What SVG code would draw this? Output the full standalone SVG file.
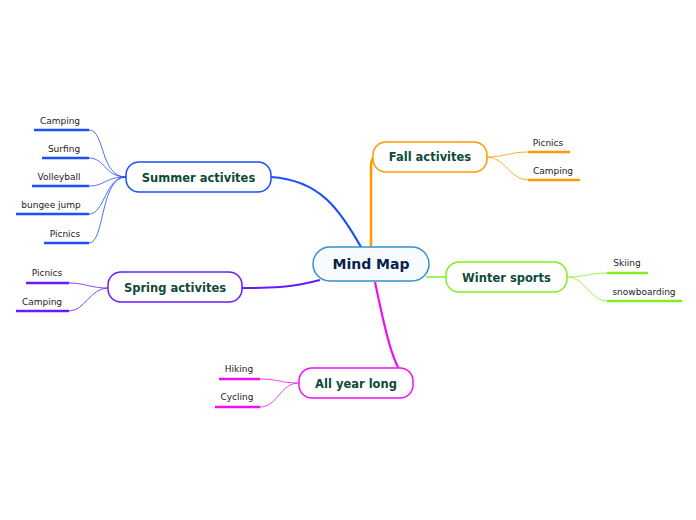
<svg xmlns="http://www.w3.org/2000/svg" width="696" height="520" viewBox="0 0 696 520">
<style>
text{font-family:"DejaVu Sans",Verdana,sans-serif}
.t{font-size:11.5px;font-weight:bold;fill:#0d4a3a;text-anchor:middle}
.l{font-size:9px;fill:#222;text-anchor:middle}
.n{fill:#fff;stroke-width:1.5}
.c{fill:none}
</style>
<rect width="696" height="520" fill="#fff"/>
<g id="connectors" class="c">
<path d="M361,247 C340,210 320,180 271,177" stroke="#1a4fff" stroke-width="2.2"/>
<path d="M371,247 L371,165 Q372,157 375,157" stroke="#ff9900" stroke-width="2.5"/>
<path d="M320,280 C290,288 270,288 242,288" stroke="#6a1aff" stroke-width="2"/>
<path d="M426,277 L446,277" stroke="#80f020" stroke-width="1.5"/>
<path d="M375,282 C385,330 395,380 413,383" stroke="#f010f0" stroke-width="2.2"/>
<g stroke="#1a4fff" stroke-width="0.8">
<path d="M126,177 C100,177 105,130 89,130"/><path d="M126,177 C105,177 105,158 89,158"/><path d="M126,177 C105,177 105,186 89,186"/><path d="M126,177 C105,177 105,214 89,214"/><path d="M126,177 C100,177 105,243 89,243"/>
</g>
<g stroke-width="2.5" stroke="#1a4fff"><path d="M34,130H89M42,158H89M32,186H89M16,214H89M44,243H89"/></g>
<g stroke="#6a1aff" stroke-width="0.8"><path d="M108,288 C90,288 85,283 69,283"/><path d="M108,288 C90,288 85,311 69,311"/></g>
<g stroke-width="2.5" stroke="#6a1aff"><path d="M26,283H69M16,311H69"/></g>
<g stroke="#ff9900" stroke-width="0.8"><path d="M487,157 C505,157 510,152 528,152"/><path d="M487,157 C505,157 510,180 528,180"/></g>
<g stroke-width="2.5" stroke="#ff9900"><path d="M528,152H570M528,180H580"/></g>
<g stroke="#80f020" stroke-width="0.8"><path d="M567,277 C585,277 590,273 607,273"/><path d="M567,277 C585,277 590,301 607,301"/></g>
<g stroke-width="2.5" stroke="#80f020"><path d="M607,273H648M607,301H682"/></g>
<g stroke="#f010f0" stroke-width="0.8"><path d="M299,383 C280,383 278,379 260,379"/><path d="M299,383 C280,383 278,407 260,407"/></g>
<g stroke-width="2.5" stroke="#f010f0"><path d="M219,379H260M215,407H260"/></g>
</g>
<g id="central"><rect x="313" y="247" width="116" height="34" rx="17" fill="#f7fbff" stroke="#3a8fd0" stroke-width="1.5"/><text x="371" y="269" style="font-size:14px;font-weight:bold;fill:#0a1f4a;text-anchor:middle">Mind Map</text></g>
<g id="summer"><rect class="n" x="126" y="162" width="145" height="30" rx="13" stroke="#1a4fff"/><text class="t" x="198.5" y="182">Summer activites</text></g>
<g id="spring"><rect class="n" x="108" y="272" width="134" height="30" rx="13" stroke="#6a1aff"/><text class="t" x="175" y="292">Spring activites</text></g>
<g id="fall"><rect class="n" x="373" y="142" width="114" height="30" rx="13" stroke="#ff9900"/><text class="t" x="430" y="161">Fall activites</text></g>
<g id="winter"><rect class="n" x="446" y="262" width="121" height="30" rx="13" stroke="#80f020"/><text class="t" x="506.5" y="282">Winter sports</text></g>
<g id="allyear"><rect class="n" x="299" y="368" width="114" height="30" rx="13" stroke="#f010f0"/><text class="t" x="356" y="388">All year long</text></g>
<g id="leaves">
<text class="l" x="60" y="124">Camping</text><text class="l" x="64" y="152">Surfing</text><text class="l" x="59" y="180">Volleyball</text><text class="l" x="51" y="208">bungee jump</text><text class="l" x="65" y="237">Picnics</text>
<text class="l" x="47" y="276">Picnics</text><text class="l" x="42" y="305">Camping</text>
<text class="l" x="548" y="146">Picnics</text><text class="l" x="553" y="174">Camping</text>
<text class="l" x="627" y="266">Skiing</text><text class="l" x="644" y="295">snowboarding</text>
<text class="l" x="239" y="372">Hiking</text><text class="l" x="237" y="400">Cycling</text>
</g>
</svg>
